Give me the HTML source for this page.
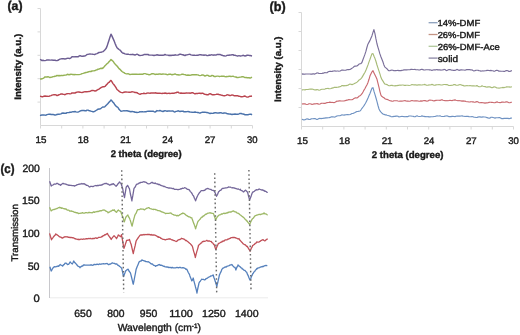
<!DOCTYPE html>
<html><head><meta charset="utf-8"><style>
html,body{margin:0;padding:0;background:#fff;}
svg{display:block;filter:blur(0.35px);}
text{fill:#1a1a1a;font-family:"Liberation Sans",sans-serif;stroke:#1a1a1a;stroke-width:0.4px;text-rendering:geometricPrecision;}
</style></head><body>
<svg width="520" height="335" viewBox="0 0 520 335">
<rect width="520" height="335" fill="#fff"/>
<path d="M40.5 8.5 V125.5 H252.5" fill="none" stroke="#D8D8D8" stroke-width="1"/>
<path d="M37.5 8.5 H40.5" stroke="#D8D8D8" stroke-width="1"/>
<path d="M37.5 31.9 H40.5" stroke="#D8D8D8" stroke-width="1"/>
<path d="M37.5 55.3 H40.5" stroke="#D8D8D8" stroke-width="1"/>
<path d="M37.5 78.7 H40.5" stroke="#D8D8D8" stroke-width="1"/>
<path d="M37.5 102.1 H40.5" stroke="#D8D8D8" stroke-width="1"/>
<path d="M40.5 125.5 V128.5" stroke="#D8D8D8" stroke-width="1"/>
<path d="M61.7 125.5 V128.5" stroke="#D8D8D8" stroke-width="1"/>
<path d="M82.9 125.5 V128.5" stroke="#D8D8D8" stroke-width="1"/>
<path d="M104.1 125.5 V128.5" stroke="#D8D8D8" stroke-width="1"/>
<path d="M125.3 125.5 V128.5" stroke="#D8D8D8" stroke-width="1"/>
<path d="M146.5 125.5 V128.5" stroke="#D8D8D8" stroke-width="1"/>
<path d="M167.7 125.5 V128.5" stroke="#D8D8D8" stroke-width="1"/>
<path d="M188.9 125.5 V128.5" stroke="#D8D8D8" stroke-width="1"/>
<path d="M210.1 125.5 V128.5" stroke="#D8D8D8" stroke-width="1"/>
<path d="M231.3 125.5 V128.5" stroke="#D8D8D8" stroke-width="1"/>
<path d="M252.5 125.5 V128.5" stroke="#D8D8D8" stroke-width="1"/>
<path d="M301.5 12.5 V126.5 H513.5" fill="none" stroke="#D8D8D8" stroke-width="1"/>
<path d="M298.5 12.5 H301.5" stroke="#D8D8D8" stroke-width="1"/>
<path d="M298.5 31.5 H301.5" stroke="#D8D8D8" stroke-width="1"/>
<path d="M298.5 50.5 H301.5" stroke="#D8D8D8" stroke-width="1"/>
<path d="M298.5 69.5 H301.5" stroke="#D8D8D8" stroke-width="1"/>
<path d="M298.5 88.5 H301.5" stroke="#D8D8D8" stroke-width="1"/>
<path d="M298.5 107.5 H301.5" stroke="#D8D8D8" stroke-width="1"/>
<path d="M301.5 126.5 V129.5" stroke="#D8D8D8" stroke-width="1"/>
<path d="M322.7 126.5 V129.5" stroke="#D8D8D8" stroke-width="1"/>
<path d="M343.9 126.5 V129.5" stroke="#D8D8D8" stroke-width="1"/>
<path d="M365.1 126.5 V129.5" stroke="#D8D8D8" stroke-width="1"/>
<path d="M386.3 126.5 V129.5" stroke="#D8D8D8" stroke-width="1"/>
<path d="M407.5 126.5 V129.5" stroke="#D8D8D8" stroke-width="1"/>
<path d="M428.7 126.5 V129.5" stroke="#D8D8D8" stroke-width="1"/>
<path d="M449.9 126.5 V129.5" stroke="#D8D8D8" stroke-width="1"/>
<path d="M471.1 126.5 V129.5" stroke="#D8D8D8" stroke-width="1"/>
<path d="M492.3 126.5 V129.5" stroke="#D8D8D8" stroke-width="1"/>
<path d="M513.5 126.5 V129.5" stroke="#D8D8D8" stroke-width="1"/>
<path d="M40.0 59.4 L41.0 59.9 L42.0 60.6 L43.0 60.3 L44.0 60.6 L45.0 60.6 L46.0 60.4 L47.0 59.9 L48.0 59.9 L49.0 60.0 L50.0 60.1 L51.0 60.1 L52.0 59.9 L53.0 60.3 L54.0 60.3 L55.0 60.3 L56.0 60.5 L57.0 60.6 L58.0 60.3 L59.0 59.6 L60.0 59.1 L61.0 58.9 L62.0 58.7 L63.0 58.6 L64.0 58.8 L65.0 59.1 L66.0 58.7 L67.0 58.4 L68.0 58.3 L69.0 58.4 L70.0 58.4 L71.0 57.8 L72.0 56.8 L73.0 56.8 L74.0 56.9 L75.0 56.7 L76.0 56.6 L77.0 56.7 L78.0 56.8 L79.0 56.1 L80.0 55.6 L81.0 56.0 L82.0 56.3 L83.0 56.2 L84.0 56.0 L85.0 56.0 L86.0 55.3 L87.0 54.5 L88.0 54.4 L89.0 54.1 L90.0 53.9 L91.0 54.1 L92.0 54.1 L93.0 54.3 L94.0 54.4 L95.0 54.4 L96.0 53.9 L97.0 53.6 L98.0 53.0 L99.0 52.5 L100.0 52.4 L101.0 52.3 L102.0 51.9 L103.0 51.6 L104.0 50.7 L105.0 49.7 L106.0 48.6 L107.0 46.4 L108.0 43.3 L109.0 40.2 L110.0 37.0 L111.0 34.2 L112.0 36.1 L113.0 38.4 L114.0 40.6 L115.0 43.2 L116.0 45.6 L117.0 47.8 L118.0 48.6 L119.0 49.5 L120.0 50.1 L121.0 51.2 L122.0 52.5 L123.0 53.2 L124.0 53.3 L125.0 53.9 L126.0 54.1 L127.0 54.3 L128.0 54.1 L129.0 54.4 L130.0 54.6 L131.0 54.4 L132.0 54.6 L133.0 54.3 L134.0 54.8 L135.0 55.0 L136.0 54.6 L137.0 54.2 L138.0 54.6 L139.0 55.3 L140.0 55.6 L141.0 55.4 L142.0 55.3 L143.0 55.1 L144.0 54.5 L145.0 54.4 L146.0 54.4 L147.0 54.4 L148.0 54.5 L149.0 55.0 L150.0 55.1 L151.0 55.1 L152.0 55.1 L153.0 55.3 L154.0 55.5 L155.0 55.3 L156.0 55.1 L157.0 54.8 L158.0 55.0 L159.0 55.2 L160.0 55.3 L161.0 55.1 L162.0 55.2 L163.0 55.2 L164.0 55.0 L165.0 54.5 L166.0 54.9 L167.0 55.1 L168.0 55.1 L169.0 55.5 L170.0 55.3 L171.0 55.5 L172.0 55.2 L173.0 55.2 L174.0 55.3 L175.0 54.8 L176.0 55.1 L177.0 55.1 L178.0 55.1 L179.0 54.5 L180.0 54.2 L181.0 54.3 L182.0 54.7 L183.0 54.7 L184.0 55.3 L185.0 55.5 L186.0 55.0 L187.0 54.9 L188.0 54.6 L189.0 54.4 L190.0 54.3 L191.0 54.9 L192.0 55.1 L193.0 55.2 L194.0 55.1 L195.0 55.3 L196.0 55.4 L197.0 55.2 L198.0 55.2 L199.0 54.9 L200.0 54.6 L201.0 54.8 L202.0 55.1 L203.0 55.0 L204.0 55.2 L205.0 55.0 L206.0 55.1 L207.0 55.5 L208.0 55.6 L209.0 55.0 L210.0 55.2 L211.0 54.9 L212.0 54.8 L213.0 55.2 L214.0 54.9 L215.0 55.0 L216.0 55.1 L217.0 54.5 L218.0 54.4 L219.0 54.4 L220.0 54.4 L221.0 55.0 L222.0 55.2 L223.0 55.7 L224.0 55.7 L225.0 56.1 L226.0 55.9 L227.0 55.4 L228.0 55.3 L229.0 55.2 L230.0 55.0 L231.0 55.1 L232.0 54.7 L233.0 54.7 L234.0 55.4 L235.0 55.3 L236.0 55.6 L237.0 55.9 L238.0 55.9 L239.0 55.7 L240.0 55.9 L241.0 55.9 L242.0 55.7 L243.0 55.3 L244.0 55.6 L245.0 56.0 L246.0 55.8 L247.0 55.2 L248.0 55.2 L249.0 55.4 L250.0 55.4 L251.0 55.7 L252.0 56.0" fill="none" stroke="#6c5d92" stroke-width="1.45" stroke-linejoin="round"/>
<path d="M40.0 79.0 L41.0 79.0 L42.0 78.7 L43.0 78.4 L44.0 77.8 L45.0 76.9 L46.0 77.0 L47.0 77.0 L48.0 76.7 L49.0 77.1 L50.0 77.6 L51.0 77.2 L52.0 77.1 L53.0 76.6 L54.0 76.5 L55.0 76.2 L56.0 76.1 L57.0 75.4 L58.0 75.7 L59.0 75.5 L60.0 75.8 L61.0 75.4 L62.0 75.4 L63.0 75.6 L64.0 75.2 L65.0 75.1 L66.0 75.1 L67.0 74.5 L68.0 74.3 L69.0 74.8 L70.0 74.5 L71.0 74.3 L72.0 74.4 L73.0 74.4 L74.0 74.7 L75.0 74.5 L76.0 74.6 L77.0 74.6 L78.0 74.6 L79.0 74.6 L80.0 74.4 L81.0 74.1 L82.0 73.6 L83.0 73.4 L84.0 73.1 L85.0 72.8 L86.0 72.5 L87.0 72.4 L88.0 72.0 L89.0 71.6 L90.0 71.5 L91.0 71.5 L92.0 71.0 L93.0 70.9 L94.0 70.8 L95.0 70.6 L96.0 70.0 L97.0 69.9 L98.0 69.2 L99.0 69.0 L100.0 68.6 L101.0 68.3 L102.0 68.5 L103.0 68.0 L104.0 66.9 L105.0 65.7 L106.0 64.8 L107.0 63.8 L108.0 63.0 L109.0 61.7 L110.0 60.7 L111.0 59.6 L112.0 60.4 L113.0 61.2 L114.0 62.7 L115.0 63.9 L116.0 65.0 L117.0 66.0 L118.0 67.3 L119.0 68.6 L120.0 69.3 L121.0 70.4 L122.0 71.5 L123.0 72.1 L124.0 72.6 L125.0 73.3 L126.0 73.7 L127.0 73.9 L128.0 73.7 L129.0 74.1 L130.0 74.5 L131.0 74.4 L132.0 74.3 L133.0 74.3 L134.0 74.2 L135.0 74.1 L136.0 74.3 L137.0 74.2 L138.0 74.4 L139.0 74.3 L140.0 74.2 L141.0 74.1 L142.0 74.2 L143.0 74.2 L144.0 73.6 L145.0 73.6 L146.0 73.9 L147.0 74.3 L148.0 74.4 L149.0 74.7 L150.0 74.5 L151.0 74.2 L152.0 73.7 L153.0 73.6 L154.0 73.9 L155.0 74.5 L156.0 74.3 L157.0 74.1 L158.0 74.4 L159.0 73.9 L160.0 73.9 L161.0 74.2 L162.0 74.2 L163.0 73.9 L164.0 74.1 L165.0 74.1 L166.0 74.3 L167.0 74.6 L168.0 74.7 L169.0 74.2 L170.0 74.1 L171.0 74.3 L172.0 74.8 L173.0 74.5 L174.0 74.4 L175.0 73.9 L176.0 74.4 L177.0 74.7 L178.0 74.8 L179.0 75.0 L180.0 74.9 L181.0 74.6 L182.0 74.2 L183.0 74.2 L184.0 74.6 L185.0 74.6 L186.0 75.0 L187.0 75.2 L188.0 75.0 L189.0 75.2 L190.0 75.2 L191.0 75.1 L192.0 74.8 L193.0 74.8 L194.0 74.6 L195.0 74.7 L196.0 74.6 L197.0 74.8 L198.0 74.9 L199.0 75.4 L200.0 75.6 L201.0 75.4 L202.0 75.0 L203.0 74.9 L204.0 75.5 L205.0 76.0 L206.0 75.6 L207.0 75.3 L208.0 75.4 L209.0 76.1 L210.0 76.3 L211.0 76.1 L212.0 75.4 L213.0 75.6 L214.0 76.4 L215.0 76.4 L216.0 76.4 L217.0 76.1 L218.0 76.1 L219.0 76.4 L220.0 76.4 L221.0 76.3 L222.0 76.1 L223.0 76.2 L224.0 76.3 L225.0 76.6 L226.0 76.7 L227.0 76.5 L228.0 76.6 L229.0 76.2 L230.0 76.3 L231.0 76.5 L232.0 76.4 L233.0 76.2 L234.0 76.6 L235.0 76.9 L236.0 76.9 L237.0 77.6 L238.0 77.5 L239.0 77.4 L240.0 77.1 L241.0 77.1 L242.0 76.7 L243.0 76.7 L244.0 77.1 L245.0 77.6 L246.0 77.4 L247.0 77.7 L248.0 77.8 L249.0 77.7 L250.0 78.0 L251.0 77.7 L252.0 77.1" fill="none" stroke="#95b255" stroke-width="1.45" stroke-linejoin="round"/>
<path d="M40.0 96.3 L41.0 96.4 L42.0 96.7 L43.0 96.7 L44.0 96.2 L45.0 96.0 L46.0 96.3 L47.0 96.2 L48.0 96.4 L49.0 96.2 L50.0 95.9 L51.0 95.6 L52.0 95.1 L53.0 94.9 L54.0 94.7 L55.0 94.6 L56.0 94.9 L57.0 95.6 L58.0 95.3 L59.0 94.7 L60.0 94.4 L61.0 94.0 L62.0 93.9 L63.0 94.2 L64.0 94.4 L65.0 94.7 L66.0 94.1 L67.0 93.7 L68.0 93.6 L69.0 93.6 L70.0 93.9 L71.0 93.6 L72.0 92.9 L73.0 93.0 L74.0 92.9 L75.0 93.0 L76.0 92.5 L77.0 92.1 L78.0 92.0 L79.0 92.0 L80.0 92.2 L81.0 92.4 L82.0 92.6 L83.0 92.2 L84.0 91.9 L85.0 91.7 L86.0 91.6 L87.0 91.7 L88.0 91.6 L89.0 91.5 L90.0 91.4 L91.0 90.9 L92.0 90.4 L93.0 90.5 L94.0 90.6 L95.0 91.1 L96.0 90.8 L97.0 90.1 L98.0 89.5 L99.0 89.1 L100.0 88.3 L101.0 87.7 L102.0 87.1 L103.0 86.8 L104.0 86.8 L105.0 86.4 L106.0 85.3 L107.0 84.2 L108.0 83.0 L109.0 82.4 L110.0 81.3 L111.0 80.4 L112.0 81.9 L113.0 83.6 L114.0 84.8 L115.0 86.1 L116.0 87.7 L117.0 89.5 L118.0 90.3 L119.0 91.1 L120.0 91.8 L121.0 92.4 L122.0 92.6 L123.0 92.7 L124.0 92.2 L125.0 92.0 L126.0 91.9 L127.0 92.1 L128.0 92.1 L129.0 92.3 L130.0 92.3 L131.0 92.1 L132.0 91.8 L133.0 91.9 L134.0 92.1 L135.0 92.5 L136.0 92.5 L137.0 92.7 L138.0 93.4 L139.0 93.9 L140.0 94.3 L141.0 93.8 L142.0 93.6 L143.0 93.5 L144.0 93.3 L145.0 93.6 L146.0 93.5 L147.0 93.1 L148.0 93.0 L149.0 93.1 L150.0 93.2 L151.0 93.0 L152.0 92.9 L153.0 93.0 L154.0 92.9 L155.0 93.0 L156.0 92.8 L157.0 93.3 L158.0 93.3 L159.0 93.3 L160.0 93.3 L161.0 93.4 L162.0 93.5 L163.0 93.3 L164.0 93.4 L165.0 93.0 L166.0 93.2 L167.0 93.5 L168.0 93.4 L169.0 93.3 L170.0 93.5 L171.0 93.4 L172.0 93.3 L173.0 93.3 L174.0 93.2 L175.0 92.9 L176.0 92.8 L177.0 92.2 L178.0 92.1 L179.0 92.8 L180.0 93.2 L181.0 93.0 L182.0 93.3 L183.0 93.3 L184.0 93.3 L185.0 93.3 L186.0 92.9 L187.0 93.0 L188.0 93.1 L189.0 92.9 L190.0 93.2 L191.0 93.0 L192.0 92.8 L193.0 92.8 L194.0 93.4 L195.0 93.9 L196.0 93.5 L197.0 93.4 L198.0 93.4 L199.0 93.3 L200.0 93.2 L201.0 93.5 L202.0 93.3 L203.0 93.2 L204.0 94.0 L205.0 94.4 L206.0 94.5 L207.0 94.7 L208.0 94.8 L209.0 94.1 L210.0 93.7 L211.0 94.0 L212.0 94.7 L213.0 94.7 L214.0 94.7 L215.0 94.6 L216.0 94.4 L217.0 94.1 L218.0 94.2 L219.0 94.5 L220.0 94.7 L221.0 95.1 L222.0 95.3 L223.0 95.6 L224.0 95.7 L225.0 95.7 L226.0 95.3 L227.0 94.8 L228.0 94.9 L229.0 95.2 L230.0 95.7 L231.0 95.3 L232.0 94.9 L233.0 95.1 L234.0 95.7 L235.0 95.8 L236.0 95.8 L237.0 95.6 L238.0 95.8 L239.0 96.3 L240.0 96.4 L241.0 96.7 L242.0 96.8 L243.0 96.6 L244.0 96.3 L245.0 96.0 L246.0 96.6 L247.0 97.0 L248.0 97.1 L249.0 96.6 L250.0 96.2 L251.0 96.2 L252.0 96.0" fill="none" stroke="#b9444f" stroke-width="1.45" stroke-linejoin="round"/>
<path d="M40.0 115.6 L41.0 115.2 L42.0 114.9 L43.0 115.0 L44.0 115.0 L45.0 115.1 L46.0 115.2 L47.0 114.6 L48.0 114.4 L49.0 114.2 L50.0 114.1 L51.0 114.5 L52.0 114.4 L53.0 114.4 L54.0 114.7 L55.0 115.2 L56.0 114.8 L57.0 114.5 L58.0 114.3 L59.0 114.2 L60.0 114.1 L61.0 113.9 L62.0 113.2 L63.0 113.0 L64.0 113.3 L65.0 113.2 L66.0 113.3 L67.0 112.6 L68.0 112.6 L69.0 112.5 L70.0 112.2 L71.0 112.3 L72.0 111.9 L73.0 111.7 L74.0 111.7 L75.0 111.5 L76.0 111.9 L77.0 112.1 L78.0 112.1 L79.0 111.7 L80.0 111.2 L81.0 110.7 L82.0 110.4 L83.0 110.4 L84.0 110.5 L85.0 110.7 L86.0 110.8 L87.0 110.1 L88.0 110.1 L89.0 110.7 L90.0 110.8 L91.0 111.2 L92.0 111.4 L93.0 111.8 L94.0 111.7 L95.0 111.2 L96.0 110.5 L97.0 109.9 L98.0 109.2 L99.0 109.0 L100.0 109.0 L101.0 108.3 L102.0 107.5 L103.0 106.9 L104.0 107.1 L105.0 106.6 L106.0 105.6 L107.0 104.6 L108.0 103.5 L109.0 102.3 L110.0 101.2 L111.0 99.9 L112.0 100.9 L113.0 102.2 L114.0 103.3 L115.0 105.0 L116.0 106.1 L117.0 106.8 L118.0 107.5 L119.0 109.3 L120.0 110.3 L121.0 111.2 L122.0 111.1 L123.0 110.9 L124.0 110.7 L125.0 110.9 L126.0 110.8 L127.0 110.8 L128.0 111.0 L129.0 111.2 L130.0 111.5 L131.0 111.8 L132.0 111.3 L133.0 111.7 L134.0 111.7 L135.0 112.3 L136.0 112.3 L137.0 112.5 L138.0 112.4 L139.0 112.2 L140.0 111.7 L141.0 111.9 L142.0 111.6 L143.0 111.8 L144.0 111.9 L145.0 111.8 L146.0 111.7 L147.0 111.4 L148.0 111.3 L149.0 111.3 L150.0 111.1 L151.0 111.3 L152.0 111.3 L153.0 111.1 L154.0 111.6 L155.0 112.0 L156.0 111.5 L157.0 110.6 L158.0 110.9 L159.0 110.8 L160.0 110.5 L161.0 110.9 L162.0 111.3 L163.0 111.5 L164.0 111.0 L165.0 110.7 L166.0 110.9 L167.0 111.3 L168.0 111.0 L169.0 110.9 L170.0 111.0 L171.0 111.1 L172.0 110.9 L173.0 111.0 L174.0 111.7 L175.0 112.0 L176.0 111.4 L177.0 111.2 L178.0 110.8 L179.0 111.1 L180.0 111.5 L181.0 111.3 L182.0 111.3 L183.0 111.1 L184.0 111.8 L185.0 111.8 L186.0 111.7 L187.0 111.6 L188.0 111.5 L189.0 111.7 L190.0 112.0 L191.0 112.1 L192.0 112.2 L193.0 112.4 L194.0 112.2 L195.0 112.0 L196.0 112.3 L197.0 112.4 L198.0 112.4 L199.0 112.8 L200.0 113.2 L201.0 112.7 L202.0 112.3 L203.0 112.3 L204.0 112.2 L205.0 112.3 L206.0 112.4 L207.0 112.4 L208.0 112.8 L209.0 113.1 L210.0 113.5 L211.0 113.2 L212.0 113.4 L213.0 113.3 L214.0 113.0 L215.0 112.8 L216.0 112.7 L217.0 113.1 L218.0 112.9 L219.0 113.0 L220.0 112.7 L221.0 112.8 L222.0 113.1 L223.0 113.4 L224.0 112.9 L225.0 113.0 L226.0 113.1 L227.0 113.7 L228.0 113.8 L229.0 114.1 L230.0 114.0 L231.0 114.2 L232.0 114.5 L233.0 114.2 L234.0 114.2 L235.0 114.0 L236.0 114.2 L237.0 114.2 L238.0 114.2 L239.0 113.9 L240.0 113.4 L241.0 113.5 L242.0 113.8 L243.0 114.0 L244.0 114.2 L245.0 114.8 L246.0 114.7 L247.0 114.6 L248.0 114.7 L249.0 114.4 L250.0 114.3 L251.0 114.2 L252.0 114.9" fill="none" stroke="#4a72ab" stroke-width="1.45" stroke-linejoin="round"/>
<path d="M301.9 74.1 L302.9 73.9 L303.9 74.2 L304.9 74.1 L305.9 74.0 L306.9 74.0 L307.9 74.0 L308.9 74.0 L309.9 74.0 L310.9 74.1 L311.9 74.1 L312.9 73.9 L313.9 73.9 L314.9 74.1 L315.9 73.4 L316.9 72.9 L317.9 73.0 L318.9 73.4 L319.9 73.5 L320.9 73.5 L321.9 73.5 L322.9 73.1 L323.9 73.1 L324.9 72.6 L325.9 72.7 L326.9 72.8 L327.9 72.0 L328.9 71.5 L329.9 71.4 L330.9 71.4 L331.9 71.5 L332.9 71.1 L333.9 71.0 L334.9 70.8 L335.9 71.2 L336.9 71.0 L337.9 71.0 L338.9 71.2 L339.9 71.0 L340.9 70.6 L341.9 70.1 L342.9 70.1 L343.9 70.3 L344.9 70.2 L345.9 70.1 L346.9 69.8 L347.9 69.5 L348.9 69.6 L349.9 69.5 L350.9 68.9 L351.9 68.3 L352.9 67.6 L353.9 66.7 L354.9 66.1 L355.9 66.1 L356.9 66.0 L357.9 65.3 L358.9 64.2 L359.9 63.8 L360.9 63.6 L361.9 62.5 L362.9 59.8 L363.9 57.1 L364.9 54.4 L365.9 51.4 L366.9 47.5 L367.9 44.2 L368.9 42.4 L369.9 40.6 L370.9 38.2 L371.9 35.9 L372.9 32.7 L373.9 29.6 L374.9 33.3 L375.9 38.7 L376.9 43.5 L377.9 47.1 L378.9 50.4 L379.9 53.9 L380.9 56.8 L381.9 59.2 L382.9 61.8 L383.9 64.9 L384.9 67.1 L385.9 67.9 L386.9 68.7 L387.9 70.0 L388.9 70.7 L389.9 70.6 L390.9 70.3 L391.9 70.1 L392.9 70.2 L393.9 70.7 L394.9 70.6 L395.9 70.6 L396.9 70.5 L397.9 70.4 L398.9 70.6 L399.9 70.6 L400.9 70.6 L401.9 70.4 L402.9 70.3 L403.9 69.9 L404.9 69.8 L405.9 69.8 L406.9 69.9 L407.9 69.8 L408.9 69.7 L409.9 69.7 L410.9 69.4 L411.9 69.4 L412.9 69.5 L413.9 69.5 L414.9 69.4 L415.9 69.7 L416.9 69.8 L417.9 69.7 L418.9 70.0 L419.9 69.9 L420.9 69.5 L421.9 69.2 L422.9 69.6 L423.9 70.0 L424.9 70.0 L425.9 69.7 L426.9 69.7 L427.9 69.7 L428.9 69.8 L429.9 69.8 L430.9 70.0 L431.9 70.5 L432.9 70.0 L433.9 69.9 L434.9 69.8 L435.9 69.8 L436.9 69.6 L437.9 69.9 L438.9 69.8 L439.9 69.8 L440.9 70.1 L441.9 70.0 L442.9 69.9 L443.9 69.4 L444.9 69.5 L445.9 70.3 L446.9 70.6 L447.9 70.1 L448.9 69.6 L449.9 69.5 L450.9 69.9 L451.9 70.1 L452.9 70.3 L453.9 70.3 L454.9 70.4 L455.9 69.9 L456.9 69.4 L457.9 69.7 L458.9 70.4 L459.9 70.1 L460.9 69.9 L461.9 69.9 L462.9 70.0 L463.9 70.0 L464.9 70.2 L465.9 69.9 L466.9 69.5 L467.9 69.6 L468.9 69.5 L469.9 69.6 L470.9 70.0 L471.9 69.8 L472.9 70.4 L473.9 70.9 L474.9 70.8 L475.9 70.2 L476.9 70.2 L477.9 70.2 L478.9 70.6 L479.9 70.7 L480.9 71.1 L481.9 71.0 L482.9 70.9 L483.9 71.0 L484.9 70.8 L485.9 70.7 L486.9 70.4 L487.9 70.3 L488.9 70.5 L489.9 70.6 L490.9 70.4 L491.9 70.7 L492.9 70.7 L493.9 71.2 L494.9 71.1 L495.9 70.5 L496.9 70.2 L497.9 70.5 L498.9 71.2 L499.9 71.1 L500.9 71.2 L501.9 71.2 L502.9 71.3 L503.9 71.4 L504.9 71.4 L505.9 70.6 L506.9 70.5 L507.9 70.8 L508.9 71.5 L509.9 71.4 L510.9 70.9 L511.9 70.6" fill="none" stroke="#7a6f9a" stroke-width="1.15" stroke-linejoin="round"/>
<path d="M302.0 89.8 L303.0 89.8 L304.0 89.7 L305.0 89.9 L306.0 89.5 L307.0 89.5 L308.0 89.5 L309.0 89.2 L310.0 89.1 L311.0 89.0 L312.0 89.1 L313.0 89.3 L314.0 89.7 L315.0 89.9 L316.0 89.9 L317.0 89.6 L318.0 89.8 L319.0 90.2 L320.0 90.0 L321.0 89.5 L322.0 89.2 L323.0 89.2 L324.0 89.2 L325.0 89.1 L326.0 88.6 L327.0 88.5 L328.0 88.4 L329.0 88.7 L330.0 88.7 L331.0 88.5 L332.0 88.1 L333.0 87.9 L334.0 87.4 L335.0 87.3 L336.0 87.3 L337.0 87.3 L338.0 87.2 L339.0 86.9 L340.0 86.6 L341.0 86.2 L342.0 85.6 L343.0 85.6 L344.0 85.9 L345.0 85.5 L346.0 85.7 L347.0 85.4 L348.0 85.2 L349.0 84.6 L350.0 84.1 L351.0 84.3 L352.0 84.6 L353.0 84.2 L354.0 83.8 L355.0 83.3 L356.0 82.8 L357.0 82.1 L358.0 81.2 L359.0 80.1 L360.0 79.5 L361.0 78.6 L362.0 77.4 L363.0 75.6 L364.0 73.9 L365.0 72.2 L366.0 70.0 L367.0 67.5 L368.0 64.9 L369.0 61.9 L370.0 59.3 L371.0 56.4 L372.0 53.7 L373.0 53.6 L374.0 56.3 L375.0 58.6 L376.0 61.5 L377.0 65.0 L378.0 68.1 L379.0 71.1 L380.0 74.1 L381.0 77.6 L382.0 79.7 L383.0 81.1 L384.0 82.9 L385.0 84.1 L386.0 84.2 L387.0 84.6 L388.0 85.2 L389.0 85.6 L390.0 85.7 L391.0 85.3 L392.0 85.4 L393.0 85.6 L394.0 85.7 L395.0 85.9 L396.0 85.6 L397.0 85.8 L398.0 85.3 L399.0 85.3 L400.0 85.0 L401.0 85.3 L402.0 85.0 L403.0 85.0 L404.0 85.3 L405.0 85.3 L406.0 85.3 L407.0 85.2 L408.0 85.3 L409.0 85.5 L410.0 85.3 L411.0 85.0 L412.0 84.5 L413.0 84.7 L414.0 84.9 L415.0 84.8 L416.0 84.9 L417.0 85.2 L418.0 84.9 L419.0 84.8 L420.0 84.8 L421.0 85.0 L422.0 85.0 L423.0 84.7 L424.0 84.6 L425.0 84.4 L426.0 85.1 L427.0 85.3 L428.0 85.2 L429.0 84.9 L430.0 85.0 L431.0 84.7 L432.0 84.4 L433.0 84.7 L434.0 85.2 L435.0 85.3 L436.0 84.9 L437.0 84.7 L438.0 84.7 L439.0 84.6 L440.0 84.7 L441.0 85.0 L442.0 85.0 L443.0 84.7 L444.0 84.5 L445.0 84.5 L446.0 84.6 L447.0 84.6 L448.0 85.1 L449.0 85.4 L450.0 85.5 L451.0 85.4 L452.0 85.3 L453.0 85.1 L454.0 84.5 L455.0 84.6 L456.0 85.2 L457.0 85.3 L458.0 85.2 L459.0 84.7 L460.0 84.6 L461.0 84.8 L462.0 85.3 L463.0 85.3 L464.0 86.0 L465.0 85.9 L466.0 85.8 L467.0 85.6 L468.0 85.7 L469.0 85.7 L470.0 85.5 L471.0 85.7 L472.0 85.9 L473.0 85.8 L474.0 85.9 L475.0 86.0 L476.0 85.9 L477.0 85.6 L478.0 86.2 L479.0 86.7 L480.0 86.7 L481.0 86.5 L482.0 85.8 L483.0 86.3 L484.0 86.5 L485.0 86.6 L486.0 86.9 L487.0 87.1 L488.0 86.9 L489.0 86.8 L490.0 86.8 L491.0 87.4 L492.0 87.7 L493.0 87.4 L494.0 86.8 L495.0 87.0 L496.0 87.4 L497.0 88.0 L498.0 88.0 L499.0 88.1 L500.0 88.0 L501.0 87.8 L502.0 87.7 L503.0 87.4 L504.0 87.7 L505.0 87.3 L506.0 87.1 L507.0 86.7 L508.0 87.0 L509.0 86.9 L510.0 87.1 L511.0 87.0 L512.0 86.7" fill="none" stroke="#a8bb78" stroke-width="1.15" stroke-linejoin="round"/>
<path d="M302.0 104.1 L303.0 103.8 L304.0 103.8 L305.0 103.9 L306.0 104.3 L307.0 104.5 L308.0 104.3 L309.0 103.7 L310.0 103.7 L311.0 104.0 L312.0 104.4 L313.0 104.3 L314.0 103.9 L315.0 103.9 L316.0 103.7 L317.0 103.6 L318.0 103.9 L319.0 104.2 L320.0 104.0 L321.0 103.4 L322.0 103.2 L323.0 103.2 L324.0 103.4 L325.0 103.4 L326.0 103.0 L327.0 102.6 L328.0 102.5 L329.0 102.4 L330.0 102.1 L331.0 102.5 L332.0 102.4 L333.0 102.5 L334.0 102.6 L335.0 102.3 L336.0 101.7 L337.0 101.1 L338.0 101.2 L339.0 100.9 L340.0 100.8 L341.0 101.0 L342.0 101.0 L343.0 101.0 L344.0 100.9 L345.0 100.7 L346.0 100.4 L347.0 100.1 L348.0 99.9 L349.0 99.5 L350.0 99.7 L351.0 99.8 L352.0 99.7 L353.0 99.2 L354.0 98.4 L355.0 97.9 L356.0 97.9 L357.0 98.0 L358.0 97.3 L359.0 96.2 L360.0 95.7 L361.0 94.9 L362.0 93.7 L363.0 92.0 L364.0 90.1 L365.0 88.5 L366.0 86.5 L367.0 84.7 L368.0 82.4 L369.0 79.3 L370.0 75.8 L371.0 73.7 L372.0 71.8 L373.0 70.7 L374.0 72.9 L375.0 75.0 L376.0 77.1 L377.0 79.3 L378.0 83.4 L379.0 87.4 L380.0 91.8 L381.0 95.4 L382.0 96.6 L383.0 97.2 L384.0 97.8 L385.0 98.7 L386.0 99.1 L387.0 99.4 L388.0 99.8 L389.0 100.3 L390.0 100.7 L391.0 100.9 L392.0 101.2 L393.0 101.1 L394.0 100.8 L395.0 100.7 L396.0 100.7 L397.0 100.7 L398.0 101.0 L399.0 101.2 L400.0 101.1 L401.0 101.1 L402.0 101.1 L403.0 101.0 L404.0 100.7 L405.0 100.6 L406.0 101.0 L407.0 101.1 L408.0 101.1 L409.0 101.2 L410.0 101.2 L411.0 100.8 L412.0 100.5 L413.0 100.7 L414.0 101.0 L415.0 100.7 L416.0 100.9 L417.0 100.9 L418.0 101.0 L419.0 101.2 L420.0 101.1 L421.0 100.9 L422.0 101.1 L423.0 100.7 L424.0 100.6 L425.0 100.6 L426.0 100.9 L427.0 101.1 L428.0 101.0 L429.0 100.3 L430.0 100.0 L431.0 100.2 L432.0 100.3 L433.0 100.7 L434.0 100.9 L435.0 100.6 L436.0 100.4 L437.0 100.2 L438.0 100.2 L439.0 100.3 L440.0 100.4 L441.0 99.9 L442.0 99.7 L443.0 100.3 L444.0 100.5 L445.0 100.6 L446.0 100.8 L447.0 100.6 L448.0 100.7 L449.0 100.5 L450.0 100.3 L451.0 100.5 L452.0 100.6 L453.0 100.3 L454.0 100.1 L455.0 99.9 L456.0 100.3 L457.0 100.5 L458.0 100.8 L459.0 100.6 L460.0 100.8 L461.0 100.9 L462.0 101.1 L463.0 100.9 L464.0 101.1 L465.0 101.1 L466.0 101.5 L467.0 101.7 L468.0 101.7 L469.0 102.0 L470.0 101.9 L471.0 101.7 L472.0 101.8 L473.0 101.8 L474.0 102.1 L475.0 102.2 L476.0 101.9 L477.0 101.6 L478.0 102.1 L479.0 102.6 L480.0 102.7 L481.0 102.5 L482.0 102.6 L483.0 102.7 L484.0 102.9 L485.0 103.1 L486.0 102.9 L487.0 102.9 L488.0 102.7 L489.0 102.4 L490.0 102.2 L491.0 102.3 L492.0 102.3 L493.0 102.5 L494.0 102.7 L495.0 102.6 L496.0 102.2 L497.0 101.9 L498.0 102.3 L499.0 102.5 L500.0 102.6 L501.0 102.4 L502.0 102.1 L503.0 102.1 L504.0 102.3 L505.0 102.2 L506.0 101.9 L507.0 101.9 L508.0 102.3 L509.0 102.7 L510.0 102.7 L511.0 102.3 L512.0 102.2" fill="none" stroke="#c96a70" stroke-width="1.15" stroke-linejoin="round"/>
<path d="M302.0 119.2 L303.0 119.6 L304.0 119.9 L305.0 119.8 L306.0 119.2 L307.0 118.8 L308.0 119.1 L309.0 119.4 L310.0 119.5 L311.0 118.9 L312.0 118.7 L313.0 118.8 L314.0 118.6 L315.0 118.6 L316.0 119.1 L317.0 119.5 L318.0 119.1 L319.0 118.6 L320.0 118.3 L321.0 118.7 L322.0 118.4 L323.0 118.5 L324.0 118.0 L325.0 118.1 L326.0 117.7 L327.0 117.9 L328.0 117.7 L329.0 117.7 L330.0 117.4 L331.0 116.9 L332.0 116.9 L333.0 116.9 L334.0 117.0 L335.0 117.1 L336.0 116.4 L337.0 116.0 L338.0 115.8 L339.0 115.7 L340.0 115.7 L341.0 115.3 L342.0 114.9 L343.0 115.0 L344.0 115.1 L345.0 114.9 L346.0 114.7 L347.0 114.6 L348.0 114.6 L349.0 114.7 L350.0 114.5 L351.0 114.1 L352.0 113.5 L353.0 113.5 L354.0 113.0 L355.0 112.5 L356.0 111.9 L357.0 111.5 L358.0 111.4 L359.0 111.2 L360.0 111.0 L361.0 109.8 L362.0 108.3 L363.0 107.0 L364.0 105.6 L365.0 104.0 L366.0 102.3 L367.0 100.2 L368.0 98.0 L369.0 95.6 L370.0 93.4 L371.0 90.8 L372.0 88.1 L373.0 87.7 L374.0 91.4 L375.0 94.6 L376.0 98.0 L377.0 101.6 L378.0 105.5 L379.0 109.0 L380.0 110.9 L381.0 112.1 L382.0 113.2 L383.0 114.0 L384.0 114.4 L385.0 114.8 L386.0 114.8 L387.0 115.3 L388.0 115.5 L389.0 115.7 L390.0 116.1 L391.0 116.6 L392.0 116.8 L393.0 116.6 L394.0 116.4 L395.0 116.4 L396.0 116.1 L397.0 116.1 L398.0 116.3 L399.0 116.9 L400.0 116.8 L401.0 116.5 L402.0 116.4 L403.0 116.5 L404.0 116.6 L405.0 116.7 L406.0 116.6 L407.0 116.6 L408.0 116.6 L409.0 116.0 L410.0 116.0 L411.0 116.0 L412.0 116.2 L413.0 116.3 L414.0 116.6 L415.0 116.8 L416.0 116.2 L417.0 115.8 L418.0 116.3 L419.0 116.5 L420.0 116.5 L421.0 116.3 L422.0 115.9 L423.0 116.2 L424.0 116.4 L425.0 116.6 L426.0 116.6 L427.0 116.7 L428.0 116.6 L429.0 116.9 L430.0 116.9 L431.0 116.7 L432.0 116.8 L433.0 116.7 L434.0 116.5 L435.0 116.4 L436.0 116.2 L437.0 115.8 L438.0 116.0 L439.0 116.0 L440.0 115.8 L441.0 116.2 L442.0 116.5 L443.0 116.5 L444.0 116.5 L445.0 116.1 L446.0 116.0 L447.0 115.9 L448.0 116.2 L449.0 116.6 L450.0 116.6 L451.0 116.6 L452.0 116.4 L453.0 116.4 L454.0 116.5 L455.0 116.6 L456.0 116.3 L457.0 116.1 L458.0 116.1 L459.0 116.1 L460.0 116.1 L461.0 116.0 L462.0 115.9 L463.0 116.1 L464.0 116.2 L465.0 116.5 L466.0 116.4 L467.0 116.3 L468.0 116.4 L469.0 116.6 L470.0 116.7 L471.0 116.8 L472.0 116.6 L473.0 116.8 L474.0 117.2 L475.0 117.3 L476.0 117.5 L477.0 117.4 L478.0 117.1 L479.0 116.8 L480.0 116.9 L481.0 117.1 L482.0 117.1 L483.0 116.9 L484.0 117.0 L485.0 117.0 L486.0 117.3 L487.0 117.6 L488.0 117.9 L489.0 118.1 L490.0 118.1 L491.0 117.3 L492.0 117.2 L493.0 117.5 L494.0 117.8 L495.0 118.1 L496.0 117.7 L497.0 117.8 L498.0 117.7 L499.0 117.6 L500.0 117.6 L501.0 118.4 L502.0 118.6 L503.0 118.6 L504.0 118.4 L505.0 118.3 L506.0 118.4 L507.0 118.2 L508.0 118.4 L509.0 118.6 L510.0 118.4 L511.0 118.1 L512.0 118.0" fill="none" stroke="#6f92c2" stroke-width="1.15" stroke-linejoin="round"/>
<path d="M49.5 168 V298" fill="none" stroke="#c8c8cc" stroke-width="1"/>
<path d="M50 297.8 H268" fill="none" stroke="#ebebeb" stroke-width="1"/>
<path d="M49.6 181.2 L50.4 183.5 L51.2 186.1 L52.0 185.3 L52.8 185.0 L53.6 184.6 L54.2 184.0 L54.4 184.2 L55.2 184.1 L56.0 184.0 L56.8 183.3 L57.3 183.4 L57.6 183.4 L58.4 184.2 L59.2 184.6 L60.0 184.5 L60.4 185.3 L60.8 185.1 L61.6 184.3 L62.4 183.8 L62.7 183.3 L63.2 183.3 L64.0 183.9 L64.8 183.9 L65.6 184.2 L66.4 184.5 L66.5 184.4 L67.2 184.8 L68.0 184.9 L68.8 185.3 L69.6 185.2 L70.4 185.4 L71.2 185.4 L72.0 185.6 L72.8 185.6 L73.6 185.6 L74.2 186.1 L74.4 186.1 L75.2 185.7 L76.0 185.4 L76.8 184.9 L77.6 184.6 L78.4 184.4 L79.2 184.0 L80.0 184.3 L80.8 183.8 L81.6 183.8 L81.9 183.4 L82.4 183.9 L83.2 184.0 L84.0 183.6 L84.8 184.0 L85.0 184.5 L85.6 184.5 L86.4 185.3 L87.2 185.4 L88.0 185.6 L88.8 186.4 L89.6 187.0 L90.4 186.5 L91.2 186.3 L92.0 186.3 L92.8 186.6 L93.6 186.3 L94.4 185.8 L95.2 185.7 L95.8 185.5 L96.0 185.5 L96.8 185.9 L97.6 185.3 L98.4 185.5 L99.2 185.3 L100.0 185.0 L100.8 185.3 L101.6 184.8 L101.9 185.1 L102.4 184.5 L103.2 184.3 L104.0 183.8 L104.8 183.5 L105.6 183.6 L105.8 183.4 L106.4 183.3 L107.2 184.1 L108.0 184.0 L108.8 184.5 L109.6 185.2 L110.4 184.9 L111.2 184.2 L112.0 184.6 L112.8 183.8 L113.5 183.6 L113.6 184.1 L114.4 184.6 L115.2 185.4 L116.0 186.1 L116.1 186.2 L116.8 185.6 L117.6 184.3 L118.4 183.5 L119.2 182.3 L119.6 181.9 L120.0 182.7 L120.8 183.2 L121.2 183.8 L121.6 185.3 L122.4 187.6 L122.7 188.7 L123.2 191.7 L124.0 195.6 L124.5 197.6 L124.8 195.6 L125.6 190.8 L126.1 187.7 L126.4 186.7 L127.2 186.0 L127.6 185.4 L128.0 186.0 L128.8 187.6 L129.4 188.6 L129.6 189.5 L130.4 194.0 L131.2 197.3 L131.9 200.9 L132.0 200.0 L132.8 195.7 L133.6 190.8 L133.9 188.8 L134.4 187.9 L135.2 187.0 L136.0 185.2 L136.8 184.1 L136.9 184.1 L137.6 184.1 L138.4 183.6 L139.2 183.0 L139.9 183.2 L140.0 182.7 L140.8 182.4 L141.6 182.4 L142.4 182.3 L143.2 181.8 L144.0 181.7 L144.3 181.8 L144.8 182.2 L145.6 182.2 L146.4 182.6 L147.2 183.3 L148.0 183.7 L148.8 183.8 L149.6 183.6 L150.4 183.3 L151.2 182.7 L152.0 182.4 L152.5 182.3 L152.8 183.0 L153.6 183.1 L154.4 183.5 L155.2 183.0 L156.0 183.7 L156.8 183.8 L157.6 184.2 L157.8 184.0 L158.4 184.7 L159.2 184.3 L160.0 184.9 L160.8 185.3 L161.6 185.7 L162.4 185.9 L163.2 186.2 L163.7 186.4 L164.0 186.6 L164.8 186.5 L165.6 187.0 L166.4 187.4 L167.2 187.6 L168.0 187.6 L168.2 187.9 L168.8 188.1 L169.6 188.0 L170.4 188.2 L171.2 188.2 L172.0 188.5 L172.8 188.7 L173.6 188.5 L174.0 189.0 L174.4 189.3 L175.2 189.4 L176.0 189.4 L176.8 189.3 L177.6 189.6 L178.4 189.7 L179.2 189.3 L180.0 189.4 L180.8 188.6 L181.6 188.9 L182.4 188.1 L183.2 188.3 L184.0 188.0 L184.8 187.6 L185.1 187.8 L185.6 188.0 L186.4 188.6 L187.2 189.3 L188.0 189.3 L188.8 189.6 L189.6 190.3 L190.4 191.6 L191.2 192.4 L192.0 193.5 L192.8 195.1 L193.4 195.7 L193.6 196.0 L194.4 198.2 L195.2 199.7 L195.6 200.9 L196.0 199.5 L196.8 197.5 L197.6 195.7 L197.8 195.2 L198.4 194.4 L199.2 193.0 L200.0 192.2 L200.8 191.0 L201.6 190.6 L202.4 190.7 L203.2 190.7 L204.0 190.5 L204.6 190.2 L204.8 190.3 L205.6 189.4 L206.4 188.9 L207.2 188.7 L207.5 188.4 L208.0 188.5 L208.8 188.9 L209.6 189.2 L210.4 189.4 L211.2 189.4 L211.3 189.8 L212.0 190.3 L212.8 190.3 L213.6 190.5 L214.3 190.8 L214.4 191.6 L215.2 192.9 L216.0 195.3 L216.5 196.3 L216.8 195.6 L217.6 194.3 L218.4 192.2 L218.7 191.6 L219.2 191.4 L220.0 190.4 L220.8 190.3 L221.6 189.2 L222.4 188.4 L222.5 188.3 L223.2 188.5 L224.0 188.2 L224.8 188.1 L225.6 187.9 L226.4 187.8 L227.2 187.7 L228.0 187.3 L228.4 186.9 L228.8 187.1 L229.6 187.1 L230.4 187.1 L231.2 187.5 L232.0 187.8 L232.8 187.6 L233.6 187.8 L234.4 188.0 L235.2 188.4 L236.0 188.5 L236.8 188.8 L237.6 189.1 L238.4 189.0 L239.2 189.5 L240.0 189.8 L240.4 189.3 L240.8 190.2 L241.6 190.7 L242.4 190.9 L243.2 191.7 L243.4 192.0 L244.0 191.7 L244.8 190.7 L245.6 190.1 L246.4 191.1 L247.2 191.8 L247.5 192.2 L248.0 193.8 L248.8 197.1 L249.6 199.9 L250.4 198.0 L251.2 195.9 L252.0 193.5 L252.3 192.8 L252.8 192.0 L253.6 191.8 L254.4 191.2 L255.2 190.5 L255.3 190.1 L256.0 190.1 L256.8 189.6 L257.6 189.8 L258.4 189.6 L259.0 189.1 L259.2 189.0 L260.0 189.4 L260.8 189.7 L261.6 190.0 L262.4 190.0 L262.8 189.8 L263.2 190.5 L264.0 190.4 L264.8 191.3 L265.6 191.2 L266.4 191.7 L267.2 192.4 L267.2 191.9" fill="none" stroke="#74679a" stroke-width="1.3" stroke-linejoin="round"/>
<path d="M49.6 207.3 L50.4 209.2 L51.2 210.9 L52.0 210.2 L52.8 209.7 L53.6 209.6 L54.2 209.2 L54.4 209.5 L55.2 209.2 L56.0 208.8 L56.8 208.5 L57.6 208.3 L58.4 207.7 L59.2 207.6 L59.6 207.3 L60.0 207.9 L60.8 207.5 L61.6 208.3 L62.4 208.0 L63.2 208.6 L64.0 208.6 L64.8 208.9 L65.0 209.2 L65.6 208.9 L66.4 209.2 L67.2 210.1 L68.0 210.1 L68.8 210.1 L69.6 211.0 L70.4 211.2 L71.2 210.9 L72.0 211.4 L72.8 211.4 L73.6 211.8 L74.4 212.3 L75.2 212.2 L76.0 212.8 L76.8 212.6 L77.6 212.9 L78.4 213.6 L78.8 213.4 L79.2 213.4 L80.0 213.4 L80.8 213.2 L81.6 213.1 L82.4 212.7 L83.2 213.1 L84.0 213.2 L84.8 213.1 L85.0 212.8 L85.6 212.6 L86.4 212.6 L87.2 212.8 L88.0 212.8 L88.8 212.4 L89.6 212.5 L90.4 212.6 L91.2 212.7 L92.0 212.8 L92.8 212.4 L93.6 211.9 L94.4 212.3 L95.2 211.9 L96.0 211.8 L96.8 211.5 L97.3 211.5 L97.6 211.5 L98.4 211.6 L99.2 210.9 L100.0 211.0 L100.8 210.6 L101.6 210.8 L102.4 210.2 L103.2 210.2 L104.0 210.0 L104.2 210.2 L104.8 210.2 L105.6 210.9 L106.4 211.3 L107.2 211.8 L108.0 212.4 L108.1 212.8 L108.8 212.1 L109.6 212.1 L110.4 211.1 L111.2 211.2 L112.0 210.5 L112.7 210.0 L112.8 210.4 L113.6 210.4 L114.2 209.8 L114.4 210.1 L115.2 211.3 L116.0 211.9 L116.5 212.3 L116.8 211.8 L117.6 210.7 L118.4 210.0 L118.5 210.1 L119.2 210.8 L120.0 211.1 L120.7 211.4 L120.8 211.8 L121.6 214.1 L122.4 216.1 L122.7 216.7 L123.2 218.2 L124.0 221.2 L124.2 221.9 L124.8 220.4 L125.6 217.9 L126.4 216.2 L127.2 215.7 L127.9 214.9 L128.0 215.2 L128.8 217.2 L129.6 218.4 L130.1 219.9 L130.4 220.6 L131.2 223.4 L132.0 226.1 L132.1 226.1 L132.8 223.2 L133.6 219.9 L134.4 216.9 L134.6 216.0 L135.2 214.4 L136.0 213.4 L136.8 211.4 L137.6 209.7 L138.4 209.6 L139.2 209.7 L140.0 209.2 L140.8 208.9 L141.3 209.0 L141.6 209.1 L142.4 209.2 L143.2 209.2 L144.0 209.6 L144.3 209.9 L144.8 209.6 L145.6 209.0 L146.4 208.4 L147.2 208.1 L148.0 207.9 L148.1 207.7 L148.8 207.6 L149.6 208.3 L150.4 208.6 L151.2 208.8 L152.0 209.1 L152.8 209.3 L153.3 209.2 L153.6 209.5 L154.4 209.4 L155.2 209.4 L156.0 209.8 L156.8 209.9 L157.6 210.6 L158.4 210.6 L159.2 210.7 L159.3 210.8 L160.0 210.8 L160.8 211.4 L161.6 211.9 L162.4 212.0 L163.2 212.3 L164.0 212.7 L164.8 213.0 L165.6 213.7 L166.0 213.4 L166.4 213.3 L167.2 213.3 L168.0 213.4 L168.8 213.3 L169.6 213.1 L170.0 213.2 L170.4 213.0 L171.2 213.2 L172.0 214.0 L172.8 214.4 L173.6 214.7 L174.0 215.2 L174.4 215.1 L175.2 215.1 L176.0 215.3 L176.8 215.9 L177.6 215.4 L178.4 215.8 L179.2 215.2 L180.0 214.6 L180.8 214.3 L181.6 213.6 L182.4 213.5 L182.9 212.9 L183.2 213.2 L184.0 213.4 L184.8 214.1 L185.6 214.8 L186.4 215.5 L187.2 215.6 L187.4 215.9 L188.0 216.4 L188.8 216.8 L189.6 216.8 L190.4 217.4 L191.2 217.9 L191.9 218.0 L192.0 218.5 L192.8 220.7 L193.6 223.1 L194.1 224.1 L194.4 225.1 L195.2 227.3 L195.6 228.8 L196.0 227.3 L196.8 224.9 L197.6 222.4 L197.8 221.8 L198.4 220.9 L199.2 220.1 L200.0 219.3 L200.8 218.2 L201.6 217.1 L202.4 217.0 L203.2 216.0 L204.0 215.8 L204.8 214.9 L205.3 214.3 L205.6 214.5 L206.4 214.2 L207.2 213.5 L208.0 213.1 L208.8 213.1 L209.6 212.9 L209.8 212.7 L210.4 213.0 L211.2 213.0 L212.0 213.3 L212.8 213.3 L213.5 213.6 L213.6 213.9 L214.4 216.2 L215.2 218.5 L215.7 220.2 L216.0 219.2 L216.8 217.8 L217.6 216.4 L218.0 216.2 L218.4 215.7 L219.2 214.9 L220.0 214.9 L220.8 214.5 L221.0 214.3 L221.6 213.9 L222.4 214.0 L223.2 213.5 L224.0 213.2 L224.8 213.6 L225.6 213.4 L226.4 212.8 L227.2 213.1 L228.0 212.3 L228.4 212.5 L228.8 212.1 L229.6 212.0 L230.4 211.8 L231.2 212.0 L232.0 211.4 L232.8 211.1 L233.6 210.9 L233.7 211.0 L234.4 211.7 L235.2 211.9 L236.0 212.0 L236.8 212.8 L237.6 213.1 L238.4 213.4 L238.9 213.7 L239.2 214.1 L240.0 214.8 L240.8 215.3 L241.6 216.0 L242.4 216.6 L243.2 217.3 L243.4 217.3 L244.0 217.9 L244.8 218.8 L245.6 219.8 L246.4 220.2 L247.1 221.4 L247.2 221.2 L248.0 222.4 L248.8 223.3 L249.6 224.4 L250.4 222.7 L251.2 221.0 L252.0 219.4 L252.3 219.0 L252.8 218.6 L253.6 217.8 L254.4 216.5 L255.2 215.7 L255.3 215.6 L256.0 215.4 L256.8 215.1 L257.6 214.8 L258.4 214.7 L259.2 214.3 L259.8 214.5 L260.0 214.4 L260.8 214.5 L261.6 214.2 L262.4 213.9 L263.2 213.8 L264.0 212.9 L264.3 213.0 L264.8 213.8 L265.6 213.9 L266.4 214.1 L267.2 214.9 L267.2 214.6" fill="none" stroke="#9db866" stroke-width="1.3" stroke-linejoin="round"/>
<path d="M49.6 233.3 L50.4 236.2 L51.2 238.8 L51.5 239.8 L52.0 238.8 L52.8 237.8 L53.6 236.7 L54.4 235.8 L55.2 235.1 L55.8 233.9 L56.0 234.3 L56.8 234.6 L57.6 235.2 L58.4 235.8 L59.2 236.6 L60.0 237.0 L60.8 237.1 L61.6 237.8 L61.9 237.9 L62.4 238.1 L63.2 237.6 L64.0 237.2 L64.8 236.8 L65.0 236.7 L65.6 236.9 L66.4 236.9 L67.2 236.7 L68.0 237.3 L68.8 237.1 L69.6 237.5 L70.4 237.5 L71.2 237.5 L72.0 237.6 L72.7 237.8 L72.8 237.7 L73.6 237.8 L74.4 238.5 L75.2 238.7 L76.0 239.1 L76.8 239.1 L77.6 239.3 L78.4 239.7 L78.8 239.3 L79.2 239.7 L80.0 239.5 L80.8 239.2 L81.6 239.2 L82.4 239.3 L83.2 239.0 L84.0 239.1 L84.8 239.2 L85.6 238.9 L86.4 238.7 L87.2 238.9 L88.0 238.6 L88.1 238.6 L88.8 238.5 L89.6 238.6 L90.4 238.3 L91.2 238.7 L92.0 238.8 L92.8 238.4 L93.6 238.5 L94.4 238.6 L95.2 237.9 L96.0 237.9 L96.8 238.4 L97.3 238.3 L97.6 238.1 L98.4 237.5 L99.2 237.4 L100.0 237.4 L100.8 237.2 L101.6 236.8 L101.9 236.3 L102.4 236.5 L103.2 235.7 L104.0 235.5 L104.8 234.6 L105.6 234.8 L106.4 234.1 L107.2 233.7 L107.3 233.3 L108.0 234.6 L108.8 235.8 L109.6 237.0 L110.4 238.0 L111.2 239.5 L112.0 238.2 L112.8 237.2 L113.6 236.1 L114.0 235.9 L114.4 236.0 L115.2 236.9 L116.0 237.7 L116.5 238.6 L116.8 238.0 L117.6 236.6 L118.4 234.9 L118.5 235.0 L119.2 235.6 L120.0 236.2 L120.5 236.7 L120.8 236.7 L121.5 234.7 L121.6 235.4 L122.4 239.7 L123.2 244.3 L124.0 248.3 L124.8 246.1 L125.6 243.5 L126.4 241.3 L126.5 240.5 L127.2 240.4 L128.0 240.1 L128.8 240.1 L129.4 239.5 L129.6 240.0 L130.4 242.4 L131.0 243.9 L131.2 244.5 L132.0 248.1 L132.8 251.6 L133.3 253.6 L133.6 251.9 L134.4 248.7 L135.2 245.4 L136.0 241.5 L136.2 240.9 L136.8 239.8 L137.6 238.6 L138.4 237.5 L139.2 236.3 L139.9 235.4 L140.0 235.1 L140.8 235.1 L141.1 234.7 L141.6 235.1 L142.4 235.0 L143.2 234.5 L144.0 235.0 L144.8 234.5 L145.6 234.7 L146.4 234.7 L147.2 234.5 L148.0 234.4 L148.8 234.5 L149.6 234.4 L150.4 235.0 L151.2 234.5 L152.0 235.2 L152.8 234.8 L153.6 235.0 L154.4 235.2 L154.8 235.0 L155.2 235.2 L156.0 235.7 L156.8 236.1 L157.6 236.8 L158.4 237.2 L158.5 236.6 L159.2 237.3 L160.0 237.4 L160.8 238.3 L161.6 238.4 L162.4 239.2 L163.2 239.3 L164.0 239.4 L164.4 239.6 L164.8 239.7 L165.6 239.9 L166.4 239.3 L167.2 239.4 L168.0 239.2 L168.8 239.0 L169.6 239.2 L170.0 238.7 L170.4 239.2 L171.2 239.5 L172.0 240.0 L172.8 240.0 L173.6 240.6 L174.4 240.6 L175.2 241.0 L176.0 241.3 L176.2 241.5 L176.8 241.3 L177.6 240.3 L178.4 239.9 L179.2 239.7 L180.0 239.5 L180.8 238.9 L181.6 238.3 L181.7 238.7 L182.4 238.6 L183.2 238.8 L184.0 239.2 L184.8 239.6 L185.6 240.5 L186.4 240.4 L187.2 241.3 L188.0 241.8 L188.8 242.6 L189.6 243.3 L190.4 243.8 L191.2 244.8 L192.0 245.7 L192.2 245.9 L192.8 247.8 L193.6 251.1 L194.4 253.6 L195.2 256.7 L195.3 257.5 L196.0 254.7 L196.8 251.6 L197.6 249.1 L198.4 246.0 L198.5 245.4 L199.2 244.7 L200.0 244.0 L200.8 243.2 L201.6 242.8 L202.4 241.5 L202.6 241.7 L203.2 241.6 L204.0 241.1 L204.8 241.3 L205.6 241.0 L206.4 240.6 L206.8 240.3 L207.2 240.6 L208.0 241.1 L208.8 241.0 L209.6 241.0 L210.4 241.3 L211.0 241.5 L211.2 241.5 L212.0 242.6 L212.8 243.0 L213.6 244.3 L214.1 244.4 L214.4 245.2 L215.2 247.8 L215.8 249.4 L216.0 249.3 L216.8 247.1 L217.6 245.3 L218.3 243.8 L218.4 243.3 L219.2 243.3 L220.0 242.8 L220.8 242.2 L221.6 242.2 L222.3 241.2 L222.4 241.7 L223.2 240.9 L224.0 241.1 L224.8 240.2 L225.6 239.9 L226.4 239.8 L227.2 239.8 L227.5 239.2 L228.0 239.2 L228.8 239.0 L229.6 238.4 L230.4 238.3 L231.2 237.6 L232.0 237.6 L232.8 237.5 L233.6 237.4 L234.4 237.5 L235.2 237.6 L236.0 238.2 L236.8 238.2 L237.6 238.8 L238.4 238.8 L239.0 238.5 L239.2 239.3 L240.0 240.2 L240.8 241.1 L241.6 242.0 L242.4 242.8 L243.2 243.8 L243.2 243.7 L244.0 244.3 L244.8 244.6 L245.6 245.1 L246.4 246.1 L247.2 246.6 L247.4 246.4 L248.0 247.7 L248.8 249.0 L249.6 250.1 L250.1 251.1 L250.4 250.5 L251.2 248.5 L252.0 247.2 L252.6 245.7 L252.8 245.6 L253.6 244.8 L254.4 244.5 L255.2 243.4 L256.0 243.1 L256.8 242.0 L257.6 242.1 L258.4 242.1 L259.2 241.8 L260.0 241.4 L260.8 240.7 L261.6 240.4 L262.4 239.8 L263.1 239.6 L263.2 239.7 L264.0 240.5 L264.8 240.9 L265.6 240.2 L266.4 239.6 L267.2 239.1 L267.3 238.5" fill="none" stroke="#c05058" stroke-width="1.3" stroke-linejoin="round"/>
<path d="M49.9 266.7 L50.7 269.5 L51.2 271.0 L51.5 270.7 L52.3 269.0 L53.1 267.8 L53.7 267.2 L53.9 267.1 L54.7 266.7 L55.5 266.8 L56.3 266.5 L57.1 266.6 L57.9 266.0 L58.6 265.9 L58.7 266.3 L59.5 265.2 L60.3 264.5 L60.5 264.7 L61.1 265.1 L61.9 265.4 L62.5 266.1 L62.7 266.0 L63.5 264.9 L64.3 264.4 L65.1 263.2 L65.4 263.1 L65.9 263.1 L66.7 263.6 L67.5 264.5 L68.3 264.4 L69.1 263.7 L69.9 262.2 L70.2 261.9 L70.7 262.6 L71.5 263.4 L72.2 263.8 L72.3 264.0 L73.1 262.5 L73.7 261.0 L73.9 261.2 L74.7 262.6 L75.5 263.3 L76.3 264.1 L77.0 265.1 L77.1 265.0 L77.9 266.1 L78.7 266.5 L79.5 266.9 L80.0 267.8 L80.3 267.1 L81.1 266.7 L81.9 266.0 L82.7 266.0 L83.5 265.0 L83.8 265.1 L84.3 264.8 L85.1 265.1 L85.9 265.2 L86.7 265.1 L87.5 265.1 L88.3 265.1 L89.1 265.1 L89.9 265.2 L90.7 264.8 L91.5 265.1 L91.6 264.9 L92.3 265.3 L93.1 265.2 L93.9 264.5 L94.7 264.5 L95.5 264.7 L96.3 264.5 L97.1 264.1 L97.9 264.4 L98.7 264.5 L99.4 264.0 L99.5 264.0 L100.3 264.1 L101.1 264.3 L101.9 263.8 L102.7 263.8 L103.5 263.7 L104.3 263.9 L105.1 263.8 L105.9 263.6 L106.7 263.6 L107.1 263.4 L107.5 263.7 L108.3 264.5 L109.1 264.6 L109.9 264.0 L110.7 264.1 L111.5 263.3 L112.0 263.0 L112.3 262.9 L113.1 263.2 L113.9 263.3 L114.7 263.5 L115.5 264.1 L116.3 263.8 L116.8 263.9 L117.1 264.4 L117.9 265.3 L118.7 265.5 L119.5 266.4 L119.8 266.4 L120.3 266.9 L121.1 267.6 L121.7 268.3 L121.9 269.1 L122.7 272.6 L123.5 276.5 L123.6 276.6 L124.3 274.5 L125.1 272.4 L125.5 270.9 L125.9 270.8 L126.7 269.8 L127.5 269.6 L127.9 269.1 L128.3 269.4 L129.1 271.2 L129.9 272.1 L130.4 272.8 L130.7 273.9 L131.5 277.0 L132.3 280.3 L133.1 283.8 L133.3 284.2 L133.9 281.1 L134.7 277.0 L135.5 272.8 L136.2 268.9 L136.3 269.0 L137.1 266.7 L137.9 264.9 L138.7 263.1 L139.1 261.9 L139.5 261.7 L140.3 261.1 L141.1 261.0 L141.9 260.0 L142.0 260.3 L142.7 260.2 L143.5 260.7 L144.3 261.0 L145.1 261.0 L145.9 261.7 L146.7 261.7 L147.5 261.9 L148.3 261.7 L148.8 262.1 L149.1 262.2 L149.9 262.8 L150.7 263.6 L151.5 264.0 L152.3 263.9 L153.1 264.8 L153.9 265.4 L154.7 265.6 L155.5 265.8 L155.6 266.4 L156.3 265.7 L157.1 265.6 L157.9 265.1 L158.5 264.7 L158.7 264.9 L159.5 264.5 L160.3 265.3 L161.1 265.2 L161.9 265.4 L162.7 265.8 L163.5 266.3 L164.3 266.1 L164.4 266.5 L165.1 266.8 L165.9 266.8 L166.7 267.0 L167.5 267.0 L168.3 267.6 L169.1 267.2 L169.9 267.7 L170.0 267.7 L170.7 267.3 L171.5 267.9 L172.3 267.4 L173.1 267.9 L173.9 267.9 L174.7 267.9 L175.5 267.8 L176.3 267.5 L177.1 267.6 L177.9 267.5 L178.7 267.9 L179.5 267.3 L180.3 267.3 L181.1 267.9 L181.9 267.8 L182.7 267.7 L183.5 267.9 L183.8 267.6 L184.3 268.2 L185.1 268.4 L185.9 269.3 L186.7 269.2 L187.0 269.7 L187.5 270.7 L188.3 272.5 L189.1 273.8 L189.7 275.1 L189.9 275.9 L190.7 277.9 L191.5 280.1 L191.8 280.9 L192.3 280.3 L193.1 278.3 L193.2 278.0 L193.9 280.9 L194.7 283.8 L195.3 286.2 L195.5 287.0 L196.3 289.9 L197.0 293.0 L197.1 292.0 L197.9 288.0 L198.7 284.5 L198.9 283.3 L199.5 282.0 L200.3 281.2 L201.1 280.0 L201.6 279.2 L201.9 279.4 L202.7 279.3 L203.5 279.3 L204.3 279.9 L204.7 279.9 L205.1 279.7 L205.9 278.8 L206.7 278.4 L207.5 278.1 L208.3 277.3 L208.9 277.1 L209.1 276.9 L209.9 276.7 L210.7 276.0 L211.5 275.8 L212.3 275.6 L213.1 274.9 L213.1 274.8 L213.9 277.5 L214.7 279.5 L215.2 281.4 L215.5 282.0 L216.3 284.8 L216.9 286.4 L217.1 285.2 L217.9 281.9 L218.7 278.3 L219.4 275.0 L219.5 274.9 L220.3 273.0 L221.1 271.6 L221.9 269.3 L222.3 268.9 L222.7 268.2 L223.5 268.1 L224.3 267.4 L225.1 267.0 L225.9 267.0 L226.5 266.9 L226.7 266.4 L227.5 266.1 L228.3 265.9 L229.1 265.6 L229.9 265.1 L230.7 264.8 L231.5 264.8 L231.7 264.5 L232.3 265.0 L233.1 266.1 L233.9 267.0 L234.7 267.4 L234.9 267.3 L235.5 268.7 L235.9 270.0 L236.3 268.6 L237.1 266.9 L237.9 265.5 L238.0 264.8 L238.7 265.9 L239.5 266.2 L240.3 267.0 L241.1 267.8 L241.9 268.2 L242.2 268.9 L242.7 269.0 L243.5 269.8 L244.3 270.4 L245.1 270.5 L245.9 271.7 L246.4 272.0 L246.7 272.3 L247.5 274.4 L248.3 275.9 L249.1 278.0 L249.9 279.9 L250.1 280.1 L250.7 278.7 L251.5 276.4 L252.3 274.9 L252.6 274.0 L253.1 273.5 L253.9 272.0 L254.7 271.5 L255.5 270.0 L256.3 269.4 L256.8 268.5 L257.1 268.9 L257.9 268.0 L258.7 267.9 L259.5 267.6 L260.3 267.2 L261.1 266.7 L261.9 266.8 L262.0 266.9 L262.7 266.3 L263.5 266.5 L264.3 265.8 L265.1 265.6 L265.9 265.5 L266.7 265.6 L267.3 265.3" fill="none" stroke="#5580bc" stroke-width="1.3" stroke-linejoin="round"/>
<path d="M121.7 170.2 L123.7 292.2" stroke="#6a6a6a" stroke-width="1.45" stroke-dasharray="1.6 2.6"/>
<path d="M214.7 173.2 L216.7 292.5" stroke="#6a6a6a" stroke-width="1.45" stroke-dasharray="1.6 2.6"/>
<path d="M248.9 170.0 L251.0 289.5" stroke="#6a6a6a" stroke-width="1.45" stroke-dasharray="1.6 2.6"/>
<text transform="translate(7.45 9.77) scale(0.9685 1)" font-size="12.70" font-weight="bold">(a)</text>
<text transform="translate(269.47 10.66) scale(0.9677 1)" font-size="13.05" font-weight="bold">(b)</text>
<text transform="translate(0.44 173.10) scale(0.8997 1)" font-size="12.80" font-weight="bold">(c)</text>
<text transform="translate(35.56 142.70) scale(1.0139 1)" font-size="9.71" font-weight="normal">15</text>
<text transform="translate(297.02 143.89) scale(1.0207 1)" font-size="9.67" font-weight="normal">15</text>
<text transform="translate(77.76 142.70) scale(1.0284 1)" font-size="9.58" font-weight="normal">18</text>
<text transform="translate(339.01 143.75) scale(1.0674 1)" font-size="9.45" font-weight="normal">18</text>
<text transform="translate(120.21 142.80) scale(0.9988 1)" font-size="9.71" font-weight="normal">21</text>
<text transform="translate(381.64 143.87) scale(1.0319 1)" font-size="9.50" font-weight="normal">21</text>
<text transform="translate(162.33 142.53) scale(0.9965 1)" font-size="9.63" font-weight="normal">24</text>
<text transform="translate(423.77 143.70) scale(0.9941 1)" font-size="9.57" font-weight="normal">24</text>
<text transform="translate(204.72 142.52) scale(1.0102 1)" font-size="9.59" font-weight="normal">27</text>
<text transform="translate(465.91 143.70) scale(1.0137 1)" font-size="9.57" font-weight="normal">27</text>
<text transform="translate(246.92 142.70) scale(0.9934 1)" font-size="9.58" font-weight="normal">30</text>
<text transform="translate(508.15 144.05) scale(0.9934 1)" font-size="9.64" font-weight="normal">30</text>
<text transform="translate(110.65 157.30) scale(0.9911 1)" font-size="9.62" font-weight="bold">2 theta (degree)</text>
<text transform="translate(371.85 158.14) scale(1.0036 1)" font-size="9.58" font-weight="bold">2 theta (degree)</text>
<text transform="translate(20.60 99.73) rotate(-90) scale(1.0366 1)" font-size="9.38" font-weight="bold">Intensity (a.u.)</text>
<text transform="translate(281.22 101.92) rotate(-90) scale(1.0353 1)" font-size="9.34" font-weight="bold">Intensity (a.u.)</text>
<text transform="translate(18.33 261.47) rotate(-90) scale(1.0126 1)" font-size="9.60" font-weight="normal">Transmission</text>
<text transform="translate(22.39 171.56) scale(0.9796 1)" font-size="10.61" font-weight="normal">200</text>
<text transform="translate(22.07 204.30) scale(1.0129 1)" font-size="10.41" font-weight="normal">150</text>
<text transform="translate(22.15 236.59) scale(0.9952 1)" font-size="10.53" font-weight="normal">100</text>
<text transform="translate(27.64 269.54) scale(1.0022 1)" font-size="10.63" font-weight="normal">50</text>
<text transform="translate(33.39 302.01) scale(1.0534 1)" font-size="10.65" font-weight="normal">0</text>
<text transform="translate(74.33 317.23) scale(1.0032 1)" font-size="10.38" font-weight="normal">650</text>
<text transform="translate(107.27 317.23) scale(0.9900 1)" font-size="10.41" font-weight="normal">800</text>
<text transform="translate(139.85 316.52) scale(1.0056 1)" font-size="10.38" font-weight="normal">950</text>
<text transform="translate(169.37 316.66) scale(1.0669 1)" font-size="10.22" font-weight="normal">1100</text>
<text transform="translate(201.97 317.14) scale(1.0406 1)" font-size="10.25" font-weight="normal">1250</text>
<text transform="translate(234.97 317.17) scale(1.0329 1)" font-size="10.25" font-weight="normal">1400</text>
<text transform="translate(117.72 331.13) scale(1.0009 1)" font-size="10.30" font-weight="normal">Wavelength (cm<tspan dy="-3.6" font-size="0.62em">-1</tspan><tspan dy="3.6">)</tspan></text>
<text transform="translate(437.40 25.99) scale(1.0815 1)" font-size="8.80" font-weight="normal">14%-DMF</text>
<text transform="translate(437.63 38.10) scale(1.0722 1)" font-size="8.78" font-weight="normal">26%-DMF</text>
<text transform="translate(437.68 49.72) scale(1.0690 1)" font-size="8.85" font-weight="normal">26%-DMF-Ace</text>
<text transform="translate(437.63 61.63) scale(1.0738 1)" font-size="9.27" font-weight="normal">solid</text>
<path d="M428.6 22.7 H437.6" stroke="#8ca0bc" stroke-width="1.3"/>
<path d="M428.6 34.5 H437.6" stroke="#c49484" stroke-width="1.3"/>
<path d="M428.6 46.3 H437.6" stroke="#b0c89a" stroke-width="1.3"/>
<path d="M428.6 58.1 H437.6" stroke="#8a86a4" stroke-width="1.3"/>
</svg>
</body></html>
